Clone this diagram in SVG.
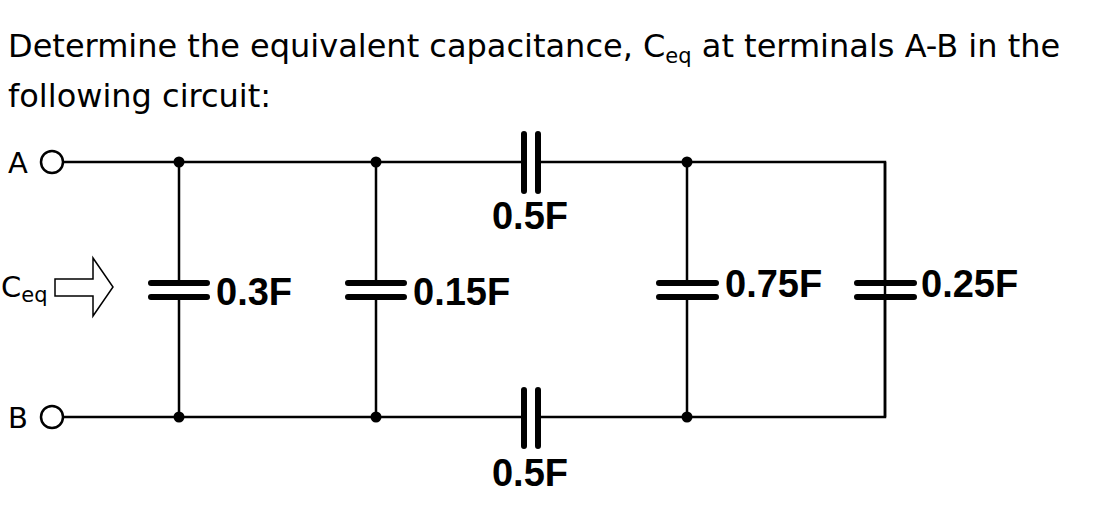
<svg xmlns="http://www.w3.org/2000/svg" width="1112" height="506" viewBox="0 0 1112 506">
<style>
.w{stroke:#000;stroke-width:2.5;fill:none}
.p{stroke:#000;stroke-width:6;stroke-linecap:round}
.d{fill:#000}
.t{font-family:"DejaVu Sans",sans-serif;font-size:32px;fill:#000}
.l{font-family:"Liberation Sans",Arial,sans-serif;font-weight:bold;font-size:38px;fill:#000}
.s{font-family:"DejaVu Sans",sans-serif;font-size:29px;fill:#000}
</style>
<rect width="1112" height="506" fill="#fff"/>
<text class="t" x="8" y="57">Determine the equivalent capacitance, C<tspan font-size="21" dy="6">eq</tspan><tspan dy="-6"> at terminals A-B in the</tspan></text>
<text class="t" x="8" y="107">following circuit:</text>
<g id="connectors">
<path class="w" d="M63 162H524M538 162H885V417H538M524 417H63"/>
<path class="w" d="M179 162V283M179 297V417M376 162V283M376 297V417M687 162V283M687 297V417"/>
<path class="w" d="M885 162V283M885 297V417"/>
</g>
<g id="A"><circle class="w" cx="52" cy="162" r="11"/><text class="s" x="8" y="173">A</text></g>
<g id="B"><circle class="w" cx="52" cy="417" r="11"/><text class="s" x="8" y="428">B</text></g>
<g id="Ceq"><text class="s" x="1" y="297">C<tspan font-size="21" dy="5">eq</tspan></text>
<path d="M55 279H93V258L113 287L93 316V296H55Z" fill="#fff" stroke="#000" stroke-width="1.5"/></g>
<g id="n1"><circle class="d" cx="179" cy="162" r="5.5"/><circle class="d" cx="179" cy="417" r="5.5"/><circle class="d" cx="376" cy="162" r="5.5"/><circle class="d" cx="376" cy="417" r="5.5"/><circle class="d" cx="687" cy="162" r="5.5"/><circle class="d" cx="687" cy="417" r="5.5"/></g>
<g id="C03"><path class="p" d="M151 283H207M151 297H207"/><text class="l" x="216" y="305">0.3F</text></g>
<g id="C015"><path class="p" d="M348 283H404M348 297H404"/><text class="l" x="413" y="305">0.15F</text></g>
<g id="C075"><path class="p" d="M659 283H716M659 297H716"/><text class="l" x="725" y="297">0.75F</text></g>
<g id="C025"><path class="p" d="M857 283H914M857 297H914"/><text class="l" x="921" y="297">0.25F</text></g>
<g id="C05a"><path class="p" d="M524 134V191M538 134V191"/><text class="l" x="530" y="229" text-anchor="middle">0.5F</text></g>
<g id="C05b"><path class="p" d="M524 390V446M538 390V446"/><text class="l" x="530" y="486" text-anchor="middle">0.5F</text></g>
</svg>
